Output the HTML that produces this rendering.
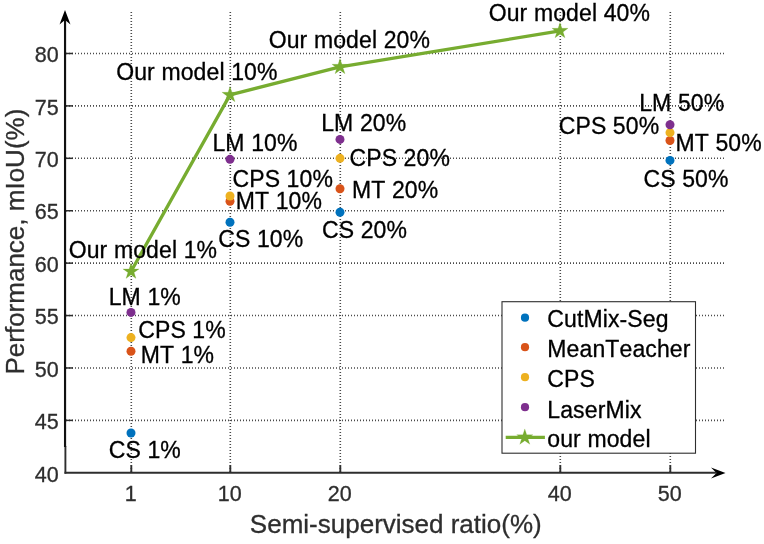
<!DOCTYPE html>
<html><head><meta charset="utf-8"><title>chart</title><style>html,body{margin:0;padding:0;background:#fff}svg{display:block}</style></head><body>
<svg width="764" height="544" viewBox="0 0 764 544" font-family="Liberation Sans, sans-serif" style="font-kerning:none">
<rect width="764" height="544" fill="#fff"/>
<g stroke="#4a4a4a" stroke-width="1.6" stroke-dasharray="1 2" fill="none">
<line x1="131.3" y1="12" x2="131.3" y2="472"/>
<line x1="230.3" y1="12" x2="230.3" y2="472"/>
<line x1="340.3" y1="12" x2="340.3" y2="472"/>
<line x1="560.3" y1="12" x2="560.3" y2="472"/>
<line x1="670.3" y1="12" x2="670.3" y2="472"/>
<line x1="66" y1="420.38" x2="725" y2="420.38"/>
<line x1="66" y1="367.97" x2="725" y2="367.97"/>
<line x1="66" y1="315.56" x2="725" y2="315.56"/>
<line x1="66" y1="263.14" x2="725" y2="263.14"/>
<line x1="66" y1="210.73" x2="725" y2="210.73"/>
<line x1="66" y1="158.31" x2="725" y2="158.31"/>
<line x1="66" y1="105.89" x2="725" y2="105.89"/>
<line x1="66" y1="53.48" x2="725" y2="53.48"/>
</g>
<g stroke="#2e2e2e" stroke-width="1.9" fill="none">
<line x1="65.4" y1="473.7" x2="65.4" y2="446"/>
<line x1="64.5" y1="472.8" x2="716" y2="472.8"/>
<line x1="131.3" y1="472.8" x2="131.3" y2="465.3"/>
<line x1="230.3" y1="472.8" x2="230.3" y2="465.3"/>
<line x1="340.3" y1="472.8" x2="340.3" y2="465.3"/>
<line x1="560.3" y1="472.8" x2="560.3" y2="465.3"/>
<line x1="670.3" y1="472.8" x2="670.3" y2="465.3"/>
<line x1="65" y1="420.38" x2="73" y2="420.38" stroke-width="1.5"/>
<line x1="65" y1="367.97" x2="73" y2="367.97" stroke-width="1.5"/>
<line x1="65" y1="315.56" x2="73" y2="315.56" stroke-width="1.5"/>
<line x1="65" y1="263.14" x2="73" y2="263.14" stroke-width="1.5"/>
<line x1="65" y1="210.73" x2="73" y2="210.73" stroke-width="1.5"/>
<line x1="65" y1="158.31" x2="73" y2="158.31" stroke-width="1.5"/>
<line x1="65" y1="105.89" x2="73" y2="105.89" stroke-width="1.5"/>
<line x1="65" y1="53.48" x2="73" y2="53.48" stroke-width="1.5"/>
</g>
<line x1="65.05" y1="447" x2="65.05" y2="20" stroke="#111" stroke-width="2.15"/>
<path d="M65 10 L70.5 24.5 L65 20 L59.5 24.5 Z" fill="#000"/>
<path d="M725.5 473 L711 478.4 L716.5 473 L711 467.6 Z" fill="#000"/>
<g fill="#2e2e2e" stroke="#2e2e2e" stroke-width="0.3">
<text transform="translate(130.70000000000002 501.2) scale(1 1)" font-size="21.5" text-anchor="middle">1</text>
<text transform="translate(229.70000000000002 501.2) scale(1 1)" font-size="21.5" text-anchor="middle">10</text>
<text transform="translate(339.7 501.2) scale(1 1)" font-size="21.5" text-anchor="middle">20</text>
<text transform="translate(559.6999999999999 501.2) scale(1 1)" font-size="21.5" text-anchor="middle">40</text>
<text transform="translate(669.6999999999999 501.2) scale(1 1)" font-size="21.5" text-anchor="middle">50</text>
<text transform="translate(58.6 481.5) scale(1 1)" font-size="21.5" text-anchor="end">40</text>
<text transform="translate(58.6 429.08) scale(1 1)" font-size="21.5" text-anchor="end">45</text>
<text transform="translate(58.6 376.67) scale(1 1)" font-size="21.5" text-anchor="end">50</text>
<text transform="translate(58.6 324.26) scale(1 1)" font-size="21.5" text-anchor="end">55</text>
<text transform="translate(58.6 271.84) scale(1 1)" font-size="21.5" text-anchor="end">60</text>
<text transform="translate(58.6 219.43) scale(1 1)" font-size="21.5" text-anchor="end">65</text>
<text transform="translate(58.6 167.01) scale(1 1)" font-size="21.5" text-anchor="end">70</text>
<text transform="translate(58.6 114.59) scale(1 1)" font-size="21.5" text-anchor="end">75</text>
<text transform="translate(58.6 62.18) scale(1 1)" font-size="21.5" text-anchor="end">80</text>
</g>
<g fill="#2e2e2e" stroke="#2e2e2e" stroke-width="0.3">
<text transform="translate(395.8 532.5) scale(1 1)" font-size="26" text-anchor="middle">Semi-supervised ratio(%)</text>
<text transform="translate(24.2 241.6) scale(1 1) rotate(-90)" font-size="26" text-anchor="middle">Performance, mIoU(%)</text>
</g>
<circle cx="131.0" cy="432.96" r="4.5" fill="#0072BD"/>
<circle cx="230.0" cy="222.26" r="4.5" fill="#0072BD"/>
<circle cx="340.0" cy="212.30" r="4.5" fill="#0072BD"/>
<circle cx="670.0" cy="160.41" r="4.5" fill="#0072BD"/>
<circle cx="131.0" cy="351.20" r="4.5" fill="#D95319"/>
<circle cx="230.0" cy="201.29" r="4.5" fill="#D95319"/>
<circle cx="340.0" cy="188.71" r="4.5" fill="#D95319"/>
<circle cx="670.0" cy="140.49" r="4.5" fill="#D95319"/>
<circle cx="131.0" cy="337.57" r="4.5" fill="#EDB120"/>
<circle cx="230.0" cy="196.05" r="4.5" fill="#EDB120"/>
<circle cx="340.0" cy="158.31" r="4.5" fill="#EDB120"/>
<circle cx="670.0" cy="132.63" r="4.5" fill="#EDB120"/>
<circle cx="131.0" cy="312.41" r="4.5" fill="#7E2F8E"/>
<circle cx="230.0" cy="159.36" r="4.5" fill="#7E2F8E"/>
<circle cx="340.0" cy="139.44" r="4.5" fill="#7E2F8E"/>
<circle cx="670.0" cy="124.76" r="4.5" fill="#7E2F8E"/>
<polyline points="131.0,271.53 230.0,94.89 340.0,66.90 560.0,30.94" fill="none" stroke="#77AC30" stroke-width="3.3" stroke-linejoin="round"/>
<polygon points="131.00,263.03 132.91,268.90 139.08,268.90 134.09,272.53 136.00,278.41 131.00,274.78 126.00,278.41 127.91,272.53 122.92,268.90 129.09,268.90" fill="#77AC30" stroke="#77AC30" stroke-width="0.2" stroke-linejoin="miter"/>
<polygon points="230.00,86.39 231.91,92.26 238.08,92.26 233.09,95.89 235.00,101.77 230.00,98.14 225.00,101.77 226.91,95.89 221.92,92.26 228.09,92.26" fill="#77AC30" stroke="#77AC30" stroke-width="0.2" stroke-linejoin="miter"/>
<polygon points="340.00,58.40 341.91,64.27 348.08,64.27 343.09,67.90 345.00,73.78 340.00,70.15 335.00,73.78 336.91,67.90 331.92,64.27 338.09,64.27" fill="#77AC30" stroke="#77AC30" stroke-width="0.2" stroke-linejoin="miter"/>
<polygon points="560.00,22.44 561.91,28.31 568.08,28.31 563.09,31.94 565.00,37.82 560.00,34.19 555.00,37.82 556.91,31.94 551.92,28.31 558.09,28.31" fill="#77AC30" stroke="#77AC30" stroke-width="0.2" stroke-linejoin="miter"/>
<g fill="#000" stroke="#000" stroke-width="0.3" letter-spacing="0.12">
<text transform="translate(68.7 257.6) scale(1 1)" font-size="23" text-anchor="start">Our model 1%</text>
<text transform="translate(108.7 305.1) scale(1 1)" font-size="23" text-anchor="start">LM 1%</text>
<text transform="translate(138.2 337.6) scale(1 1)" font-size="23" text-anchor="start">CPS 1%</text>
<text transform="translate(140.7 362.6) scale(1 1)" font-size="23" text-anchor="start">MT 1%</text>
<text transform="translate(108.7 458.1) scale(1 1)" font-size="23" text-anchor="start">CS 1%</text>
<text transform="translate(116.2 80.1) scale(1 1)" font-size="23" text-anchor="start">Our model 10%</text>
<text transform="translate(212.45 151.1) scale(1 1)" font-size="23" text-anchor="start">LM 10%</text>
<text transform="translate(232.45 186.85) scale(1 1)" font-size="23" text-anchor="start">CPS 10%</text>
<text transform="translate(235.7 208.6) scale(1 1)" font-size="23" text-anchor="start">MT 10%</text>
<text transform="translate(218.2 246.85) scale(1 1)" font-size="23" text-anchor="start">CS 10%</text>
<text transform="translate(268.7 48.1) scale(1 1)" font-size="23" text-anchor="start">Our model 20%</text>
<text transform="translate(321.2 130.6) scale(1 1)" font-size="23" text-anchor="start">LM 20%</text>
<text transform="translate(349.45 166.1) scale(1 1)" font-size="23" text-anchor="start">CPS 20%</text>
<text transform="translate(351.95 197.6) scale(1 1)" font-size="23" text-anchor="start">MT 20%</text>
<text transform="translate(321.95 238.1) scale(1 1)" font-size="23" text-anchor="start">CS 20%</text>
<text transform="translate(488.7 20.6) scale(1 1)" font-size="23" text-anchor="start">Our model 40%</text>
<text transform="translate(639.2 110.6) scale(1 1)" font-size="23" text-anchor="start">LM 50%</text>
<text transform="translate(558.7 134.35) scale(1 1)" font-size="23" text-anchor="start">CPS 50%</text>
<text transform="translate(675.45 150.6) scale(1 1)" font-size="23" text-anchor="start">MT 50%</text>
<text transform="translate(643.45 187.35) scale(1 1)" font-size="23" text-anchor="start">CS 50%</text>
</g>
<rect x="502" y="301.7" width="193.5" height="151.5" fill="#fff" stroke="#2e2e2e" stroke-width="1.1"/>
<circle cx="525" cy="317.7" r="4.1" fill="#0072BD"/>
<circle cx="525" cy="347.2" r="4.1" fill="#D95319"/>
<circle cx="525" cy="377.2" r="4.1" fill="#EDB120"/>
<circle cx="525" cy="407.2" r="4.1" fill="#7E2F8E"/>
<line x1="505.7" y1="437.4" x2="544.9" y2="437.4" stroke="#77AC30" stroke-width="3.4"/>
<polygon points="524.80,428.90 526.71,434.77 532.88,434.77 527.89,438.40 529.80,444.28 524.80,440.65 519.80,444.28 521.71,438.40 516.72,434.77 522.89,434.77" fill="#77AC30" stroke="#77AC30" stroke-width="0.2" stroke-linejoin="miter"/>
<g fill="#000" stroke="#000" stroke-width="0.3" letter-spacing="0.12">
<text transform="translate(547.3 327.35) scale(1 1)" font-size="23" text-anchor="start">CutMix-Seg</text>
<text transform="translate(547.3 357.35) scale(1 1)" font-size="23" text-anchor="start">MeanTeacher</text>
<text transform="translate(547.3 386.6) scale(1 1)" font-size="23" text-anchor="start">CPS</text>
<text transform="translate(547.3 417.85) scale(1 1)" font-size="23" text-anchor="start">LaserMix</text>
<text transform="translate(547.3 447.35) scale(1 1)" font-size="23" text-anchor="start">our model</text>
</g>
</svg>
</body></html>
